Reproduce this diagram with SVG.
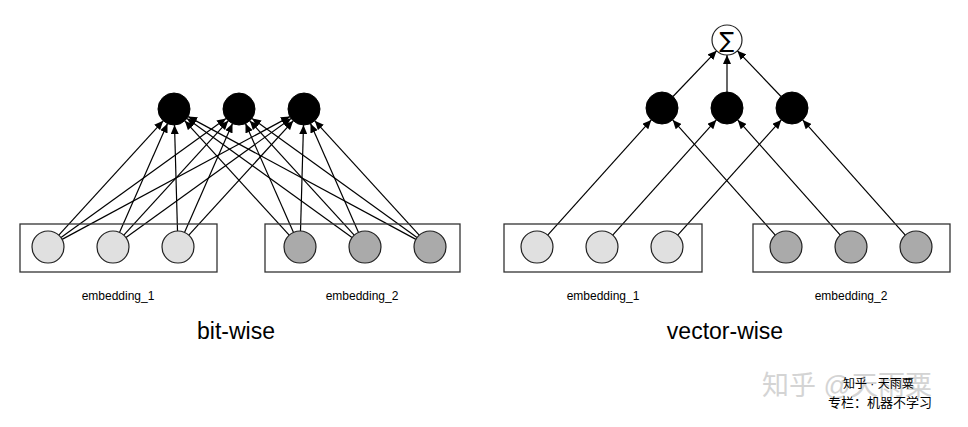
<svg xmlns="http://www.w3.org/2000/svg" width="968" height="427" viewBox="0 0 968 427">
<style>
.box{fill:none;stroke:#333;stroke-width:1.3}
.a{fill:#e0e0e0;stroke:#222;stroke-width:1.2}
.b{fill:#aaa;stroke:#222;stroke-width:1.2}
.k{fill:#000;stroke:#000}
.e line{stroke:#000;stroke-width:1.2;marker-end:url(#ar)}
.lab{font-family:"Liberation Sans",Arial,sans-serif;font-size:12px;text-anchor:middle;fill:#000}
.ttl{font-family:"Liberation Sans",Arial,sans-serif;font-size:23px;text-anchor:middle;fill:#000}
.cjk{font-family:"Liberation Sans","Noto Sans CJK SC",sans-serif}
</style>
<defs><marker id="ar" markerUnits="userSpaceOnUse" markerWidth="10" markerHeight="8" refX="9" refY="4" orient="auto"><path d="M0,0 L9,4 L0,8 Z" fill="#000"/></marker></defs>
<rect width="968" height="427" fill="#fff"/>
<g id="connectors" class="e">
<line x1="58.8" y1="235.2" x2="163.2" y2="120.8"/>
<line x1="61" y1="237.6" x2="226" y2="118.4"/>
<line x1="62.1" y1="239.4" x2="289.9" y2="116.6"/>
<line x1="119.5" y1="232.4" x2="167.5" y2="123.6"/>
<line x1="123.8" y1="235.2" x2="228.2" y2="120.8"/>
<line x1="126" y1="237.6" x2="291" y2="118.4"/>
<line x1="177.5" y1="231" x2="174.5" y2="125"/>
<line x1="184.5" y1="232.4" x2="232.5" y2="123.6"/>
<line x1="188.8" y1="235.2" x2="293.2" y2="120.8"/>
<line x1="289.2" y1="235.2" x2="184.8" y2="120.8"/>
<line x1="293.5" y1="232.4" x2="245.5" y2="123.6"/>
<line x1="300.5" y1="231" x2="303.5" y2="125"/>
<line x1="352" y1="237.6" x2="187" y2="118.4"/>
<line x1="354.2" y1="235.2" x2="249.8" y2="120.8"/>
<line x1="358.5" y1="232.4" x2="310.5" y2="123.6"/>
<line x1="415.9" y1="239.4" x2="188.1" y2="116.6"/>
<line x1="417" y1="237.6" x2="252" y2="118.4"/>
<line x1="419.2" y1="235.2" x2="314.8" y2="120.8"/>
<line x1="547.7" y1="235.1" x2="651.3" y2="119.9"/>
<line x1="612.7" y1="235.1" x2="716.3" y2="119.9"/>
<line x1="677.7" y1="235.1" x2="781.3" y2="119.9"/>
<line x1="775.3" y1="235.1" x2="672.7" y2="119.9"/>
<line x1="840.3" y1="235.1" x2="737.7" y2="119.9"/>
<line x1="905.3" y1="235.1" x2="802.7" y2="119.9"/>
<line x1="673" y1="96.5" x2="716.6" y2="50.8"/>
<line x1="727" y1="92" x2="727" y2="55"/>
<line x1="781" y1="96.5" x2="737.4" y2="50.8"/>
</g>
<g id="bit-emb1"><rect class="box" x="20" y="224" width="197" height="48"/><circle class="a" cx="48" cy="247" r="16"/><circle class="a" cx="113" cy="247" r="16"/><circle class="a" cx="178" cy="247" r="16"/></g>
<g id="bit-emb2"><rect class="box" x="265" y="224" width="195" height="48"/><circle class="b" cx="300" cy="247" r="16"/><circle class="b" cx="365" cy="247" r="16"/><circle class="b" cx="430" cy="247" r="16"/></g>
<g id="bit-out"><circle class="k" cx="174" cy="109" r="16"/><circle class="k" cx="239" cy="109" r="16"/><circle class="k" cx="304" cy="109" r="16"/></g>
<g id="vec-emb1"><rect class="box" x="504" y="224" width="198" height="48"/><circle class="a" cx="537" cy="247" r="16"/><circle class="a" cx="602" cy="247" r="16"/><circle class="a" cx="667" cy="247" r="16"/></g>
<g id="vec-emb2"><rect class="box" x="753" y="224" width="197" height="48"/><circle class="b" cx="786" cy="247" r="16"/><circle class="b" cx="851" cy="247" r="16"/><circle class="b" cx="916" cy="247" r="16"/></g>
<g id="vec-mid"><circle class="k" cx="662" cy="108" r="16"/><circle class="k" cx="727" cy="108" r="16"/><circle class="k" cx="792" cy="108" r="16"/></g>
<g id="sum"><circle cx="727" cy="40" r="15" fill="#fff" stroke="#222" stroke-width="1.2"/><text x="727" y="48" class="lab" style="font-size:22px;font-family:'DejaVu Sans',sans-serif">∑</text></g>
<g id="labels">
<text class="lab" x="118" y="300">embedding_1</text>
<text class="lab" x="362" y="300">embedding_2</text>
<text class="ttl" x="236" y="339">bit-wise</text>
<text class="lab" x="603" y="300">embedding_1</text>
<text class="lab" x="851" y="300">embedding_2</text>
<text class="ttl" x="725" y="339">vector-wise</text>
</g>
<g id="watermark">
<text class="cjk" x="762" y="395" font-size="27" fill="#d4d4d4">知乎 @天雨粟</text>
<text class="cjk" x="843" y="388" font-size="12" fill="#000">知乎 · 天雨粟</text>
<text class="cjk" x="828" y="407" font-size="13" fill="#000">专栏：机器不学习</text>
</g>
</svg>
